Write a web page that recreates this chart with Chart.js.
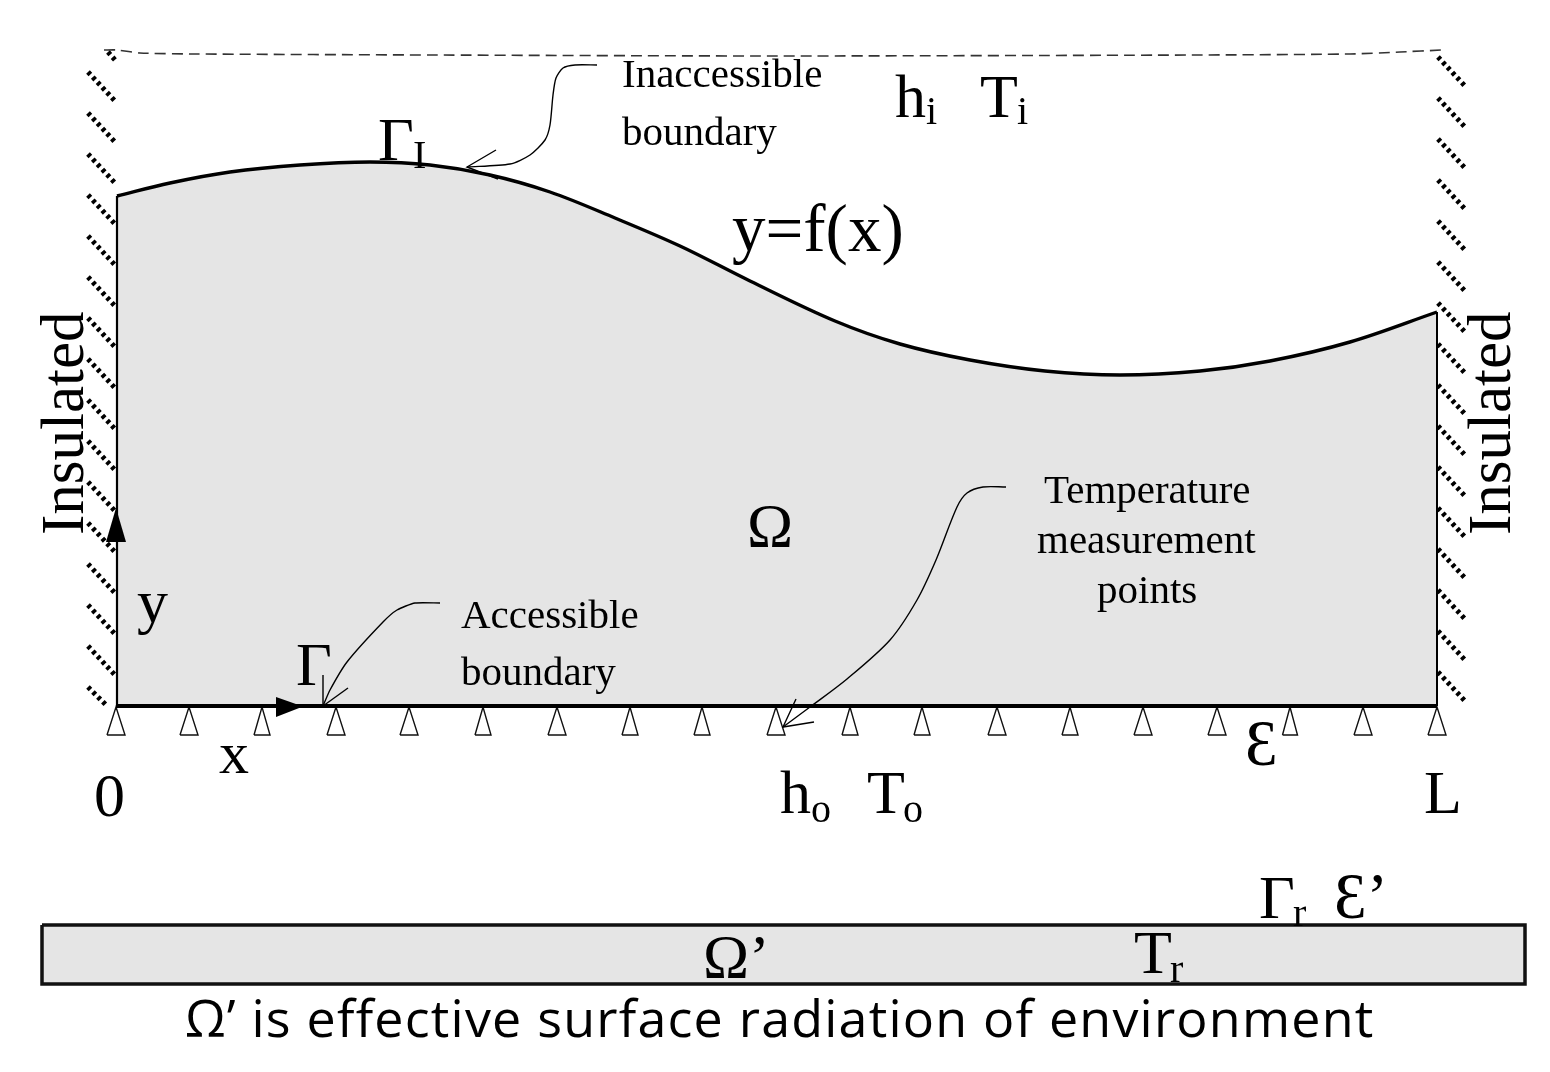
<!DOCTYPE html>
<html>
<head>
<meta charset="utf-8">
<title>Inaccessible boundary domain</title>
<script src="https://cdn.jsdelivr.net/npm/chart.js@4/dist/chart.umd.min.js"></script>
<style>
  html, body { margin: 0; padding: 0; background: #fff; }
  canvas { display: block; }
</style>
</head>
<body>
<canvas id="myChart" width="1550" height="1072"></canvas>
<script>
// all values are in picture units, y counted downwards
const curveX = [117, 170, 230, 300, 370, 430, 490, 550, 615, 680, 750, 835, 900, 970, 1045, 1120, 1200, 1270, 1350, 1437];
const curveY = [196, 183, 172, 165, 162, 165, 175, 192, 218, 246, 281, 321, 344, 360, 371, 375, 371, 361, 342, 312];

const radiatorX = [42, 1525, 1525, 42, 42];
const radiatorY = [925, 925, 984, 984, 925];

const ceilingX = [104, 117, 140, 197, 430, 770, 1200, 1350, 1400, 1442];
const ceilingY = [50, 50, 53, 54, 55, 56, 55, 54, 52, 50];

const leftHatchY = [72, 113, 154, 195, 236, 277, 318, 359, 400, 441, 482, 523, 564, 605, 646];
const rightHatchY = [57, 98, 139, 180, 221, 262, 303, 344, 385, 426, 467, 508, 549, 590, 631, 672];

const sensorX = [116, 189, 262, 336, 409, 483, 557, 630, 702, 776, 850, 922, 997, 1070, 1143, 1217, 1290, 1363, 1437];
const sensorW = [18, 18, 16, 18, 18, 16, 18, 16, 16, 18, 16, 16, 18, 16, 18, 18, 15, 18, 18];

const upperLeaderX = [597, 575, 563, 556, 553, 550, 545, 530, 510, 467];
const upperLeaderY = [65, 65, 68, 78, 95, 125, 140, 155, 164, 167];
const accessLeaderX = [440, 415, 397, 383, 347, 330, 323];
const accessLeaderY = [603, 603, 610, 622, 662, 690, 706];
const tempLeaderX = [1006, 983, 967, 957, 936, 917, 890, 847, 810, 783];
const tempLeaderY = [487, 487, 493, 507, 560, 600, 640, 679, 707, 727];

const labelTexts = [
  "Inaccessible", "boundary", "h", "i", "T", "i",
  "Γ", "I", "y=f(x)", "Insulated", "Insulated", "Ω",
  "Temperature", "measurement", "points", "Accessible", "boundary",
  "y", "Γ", "x", "0", "h", "o", "T", "o", "Ɛ", "L",
  "Γ", "r", "Ɛ’", "Ω’", "T", "r",
  "Ω’ is effective surface radiation of environment",
];

const pts = (xs, ys) => xs.map((x, i) => ({ x, y: ys[i] }));
const gap = { x: null, y: null };

const hatch = (ys, x0, x1) =>
  ys.flatMap((y) => [{ x: x0, y }, { x: x1, y: y + 29 }, gap]);

const triangles = () =>
  sensorX.flatMap((x, i) => [
    { x: x - sensorW[i] / 2, y: 735 },
    { x, y: 707 },
    { x: x + sensorW[i] / 2, y: 735 },
    { x: x - sensorW[i] / 2, y: 735 },
    gap,
  ]);

const line = (data, width, extra) => ({
  data,
  borderColor: "#000",
  borderWidth: width,
  pointRadius: 0,
  tension: 0,
  fill: false,
  ...extra,
});

const head = (data) => line(data, 0, { backgroundColor: "#000", fill: "shape" });
const hatchStyle = { borderDash: [3.5, 3.5] };

// back to front, reversed below because chart.js paints the first dataset last
const layers = [
  line(
    [...pts(curveX, curveY), { x: 1437, y: 706 }, { x: 117, y: 706 }, { x: 117, y: curveY[0] }],
    0,
    { backgroundColor: "#e5e5e5", fill: "shape" }
  ),
  line(pts(radiatorX, radiatorY), 3.5, { backgroundColor: "#e5e5e5", fill: "shape", borderColor: "#111" }),
  line(pts(ceilingX, ceilingY), 1.6, { borderColor: "#333", borderDash: [11, 6], tension: 0.2 }),
  line(hatch(leftHatchY, 88, 115), 5, hatchStyle),
  line(pts([108, 115], [52, 60]), 5, hatchStyle),
  line(pts([88, 107], [687, 706]), 5, hatchStyle),
  line(hatch(rightHatchY, 1438, 1465), 5, hatchStyle),
  line(triangles(), 1.4, { borderColor: "#111" }),
  line(pts(curveX, curveY), 3.4, { tension: 0.35 }),
  line(pts([117, 117], [196, 706]), 2.2),
  line(pts([1437, 1437], [312, 706]), 2),
  line(pts([116, 1437], [706, 706]), 3.8),
  head(pts([116, 106, 126, 116], [508, 542, 542, 508])),
  head(pts([303, 276, 276, 303], [706.5, 697, 717, 706.5])),
  line(pts(upperLeaderX, upperLeaderY), 1.4, { tension: 0.25 }),
  line(pts([496, 467, 498], [150, 167, 179]), 1.4),
  line(pts(accessLeaderX, accessLeaderY), 1.4, { tension: 0.2 }),
  line(pts([323, 323], [675, 706]), 1.4),
  line(pts([348, 323], [688, 706]), 1.4),
  line(pts(tempLeaderX, tempLeaderY), 1.4, { tension: 0.3 }),
  line(pts([796, 783, 814], [699, 727, 722]), 1.4),
];

const serif = "'Liberation Serif'";
// x, y (baseline), font px, for each entry of labelTexts
const labelPlace = [
  [622, 87, 41], [622, 145, 41], [895, 117, 62], [926, 124, 40], [980, 117, 62], [1017, 124, 40],
  [378, 160, 62], [413, 168, 40], [732, 251, 67], [83, 535, 61, -90], [1510, 535, 61, -90], [747, 546, 62],
  [1044, 503, 41], [1037, 553, 41], [1097, 603, 41], [461, 628, 41], [461, 685, 41],
  [137, 622, 62], [296, 685, 62], [219, 773, 60], [94, 816, 62], [780, 813, 62], [811, 822, 40], [867, 813, 62], [903, 822, 40], [1245, 765, 65], [1424, 813, 62],
  [1259, 918, 62], [1293, 926, 40], [1334, 918, 65], [703, 977, 62], [1134, 973, 62], [1170, 982, 40],
  [185, 1037, 52, 0, "'Open Sans'", "1.2px"],
];

const labelPlugin = {
  id: "labels",
  afterDraw(chart) {
    const { ctx, scales } = chart;
    ctx.save();
    ctx.fillStyle = "#000";
    ctx.textBaseline = "alphabetic";
    labelTexts.forEach((text, i) => {
      const [x, y, size, rot, family, spacing] = labelPlace[i];
      ctx.save();
      ctx.translate(scales.x.getPixelForValue(x), scales.y.getPixelForValue(y));
      if (rot) ctx.rotate((rot * Math.PI) / 180);
      ctx.font = `${size}px ${family || serif}`;
      ctx.letterSpacing = spacing || "0px";
      ctx.fillText(text, 0, 0);
      ctx.restore();
    });
    ctx.restore();
  },
};

new Chart(document.getElementById("myChart"), {
  type: "line",
  data: { datasets: layers.reverse() },
  plugins: [labelPlugin],
  options: {
    responsive: false,
    animation: false,
    layout: { padding: 0 },
    plugins: { legend: { display: false }, tooltip: { enabled: false } },
    scales: {
      x: { type: "linear", display: false, min: 0, max: 1550 },
      y: { type: "linear", display: false, min: 0, max: 1072, reverse: true },
    },
  },
});
</script>
</body>
</html>
